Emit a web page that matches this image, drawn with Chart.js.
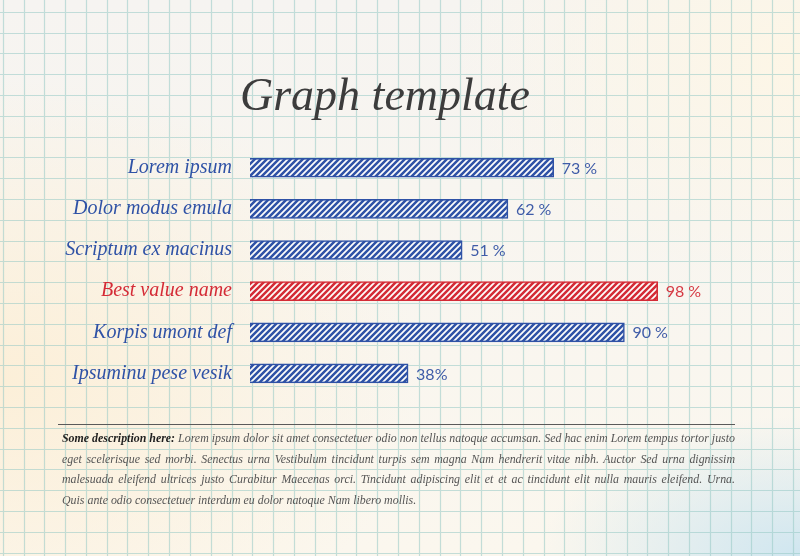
<!DOCTYPE html>
<html>
<head>
<meta charset="utf-8">
<script src="https://cdn.jsdelivr.net/npm/chart.js@4.4.1/dist/chart.umd.min.js"></script>
<style>
  html, body { margin: 0; padding: 0; }
  body {
    width: 800px; height: 556px; overflow: hidden; position: relative;
    background-color: #f7f5f0;
    background-image:
      radial-gradient(ellipse 260px 140px at 800px 556px, #cfe6f0 0%, rgba(220,236,242,0) 100%),
      radial-gradient(ellipse 420px 300px at 0px 380px, #fcefd8 0%, rgba(252,240,220,0) 100%),
      radial-gradient(ellipse 360px 220px at 800px 60px, #fdf6e6 0%, rgba(253,246,230,0) 100%),
      linear-gradient(180deg, #f6f4f1 0%, #fbf7ee 100%);
  }
  #wrap { position: absolute; left: 0; top: 0; width: 800px; height: 556px; }
  .rule {
    position: absolute; left: 58px; top: 424px; width: 677px;
    border-top: 1.3px solid #5a5a5a;
  }
  .desc {
    position: absolute; left: 62px; top: 428px; width: 673px;
    font-family: "Liberation Serif", serif; font-style: italic;
    font-size: 11.9px; line-height: 20.7px; color: #555;
  }
  .desc div { text-align: justify; text-align-last: justify; white-space: nowrap; }
  .desc div.last { text-align-last: left; }
  .desc b { color: #1e1e1e; font-weight: bold; }
</style>
</head>
<body>
<div id="wrap"><canvas id="myChart" width="800" height="556"></canvas></div>
<div class="rule"></div>
<div class="desc">
  <div><b>Some description here:</b> Lorem ipsum dolor sit amet consectetuer odio non tellus natoque accumsan. Sed hac enim Lorem tempus tortor justo</div>
  <div>eget scelerisque sed morbi. Senectus urna Vestibulum tincidunt turpis sem magna Nam hendrerit vitae nibh. Auctor Sed urna dignissim</div>
  <div>malesuada eleifend ultrices justo Curabitur Maecenas orci. Tincidunt adipiscing elit et et ac tincidunt elit nulla mauris eleifend. Urna.</div>
  <div class="last">Quis ante odio consectetuer interdum eu dolor natoque Nam libero mollis.</div>
</div>
<script>
const categories = ["Lorem ipsum", "Dolor modus emula", "Scriptum ex macinus", "Best value name", "Korpis umont def", "Ipsuminu pese vesik"];
const values = [73, 62, 51, 98, 90, 38];
const valueLabels = ["73 %", "62 %", "51 %", "98 %", "90 %", "38%"];
const bestIndex = 3;

const blue = "#2f52a6";
const red = "#d42b36";

// scribbled hatch fill
function hatch(color) {
  const c = document.createElement("canvas");
  const s = 6;
  c.width = s; c.height = s;
  const g = c.getContext("2d");
  g.fillStyle = "rgba(255,255,255,0.8)";
  g.fillRect(0, 0, s, s);
  g.strokeStyle = color;
  g.lineWidth = 2.5;
  g.beginPath();
  g.moveTo(0, s); g.lineTo(s, 0);
  g.moveTo(-s / 2, s / 2); g.lineTo(s / 2, -s / 2);
  g.moveTo(s / 2, s * 1.5); g.lineTo(s * 1.5, s / 2);
  g.stroke();
  return g.createPattern(c, "repeat");
}

const bluePattern = hatch(blue);
const redPattern = hatch(red);

// squared paper behind the chart
const paperPlugin = {
  id: "paper",
  beforeDraw(chart) {
    const ctx = chart.ctx;
    ctx.save();
    ctx.strokeStyle = "rgba(150,200,196,0.55)";
    ctx.lineWidth = 1.2;
    ctx.beginPath();
    for (let x = 2.7; x < 800; x += 20.8) {
      const px = Math.round(x) + 0.5;
      ctx.moveTo(px, 0); ctx.lineTo(px, 556);
    }
    for (let y = 11.7; y < 556; y += 20.8) {
      const py = Math.round(y) + 0.5;
      ctx.moveTo(0, py); ctx.lineTo(800, py);
    }
    ctx.stroke();
    ctx.restore();
  }
};

const valueLabelPlugin = {
  id: "valueLabels",
  afterDatasetsDraw(chart) {
    const ctx = chart.ctx;
    const meta = chart.getDatasetMeta(0);
    ctx.save();
    ctx.font = "16px Lato, 'Open Sans', sans-serif";
    ctx.textBaseline = "middle";
    meta.data.forEach(function(bar, i) {
      ctx.fillStyle = i === bestIndex ? "#d63a44" : "#3f5ca8";
      ctx.fillText(valueLabels[i], bar.x + 8, bar.y + 1);
    });
    ctx.restore();
  }
};

new Chart("myChart", {
  type: "bar",
  data: {
    labels: categories,
    datasets: [{
      data: values,
      backgroundColor: values.map((v, i) => i === bestIndex ? redPattern : bluePattern),
      borderColor: values.map((v, i) => i === bestIndex ? red : blue),
      borderWidth: 1.5,
      barThickness: 19
    }]
  },
  options: {
    indexAxis: "y",
    responsive: false,
    animation: false,
    layout: { padding: { left: 0, right: 30, top: 14, bottom: 162 } },
    plugins: {
      legend: { display: false },
      tooltip: { enabled: false },
      title: {
        display: true,
        text: "Graph template",
        color: "#3c3c3c",
        font: { family: "'Liberation Serif', serif", style: "italic", size: 46, weight: "normal", lineHeight: 1.2 },
        padding: { top: 56, bottom: 22 }
      }
    },
    scales: {
      x: { min: 0, max: 125, display: false },
      y: {
        grid: { display: false, drawTicks: false },
        border: { display: false },
        afterFit: function(scale) { scale.width = 250; },
        ticks: {
          padding: 18,
          color: (c) => c.index === bestIndex ? red : blue,
          font: { family: "'Liberation Serif', serif", style: "italic", size: 20 }
        }
      }
    }
  },
  plugins: [paperPlugin, valueLabelPlugin]
});
</script>
</body>
</html>
